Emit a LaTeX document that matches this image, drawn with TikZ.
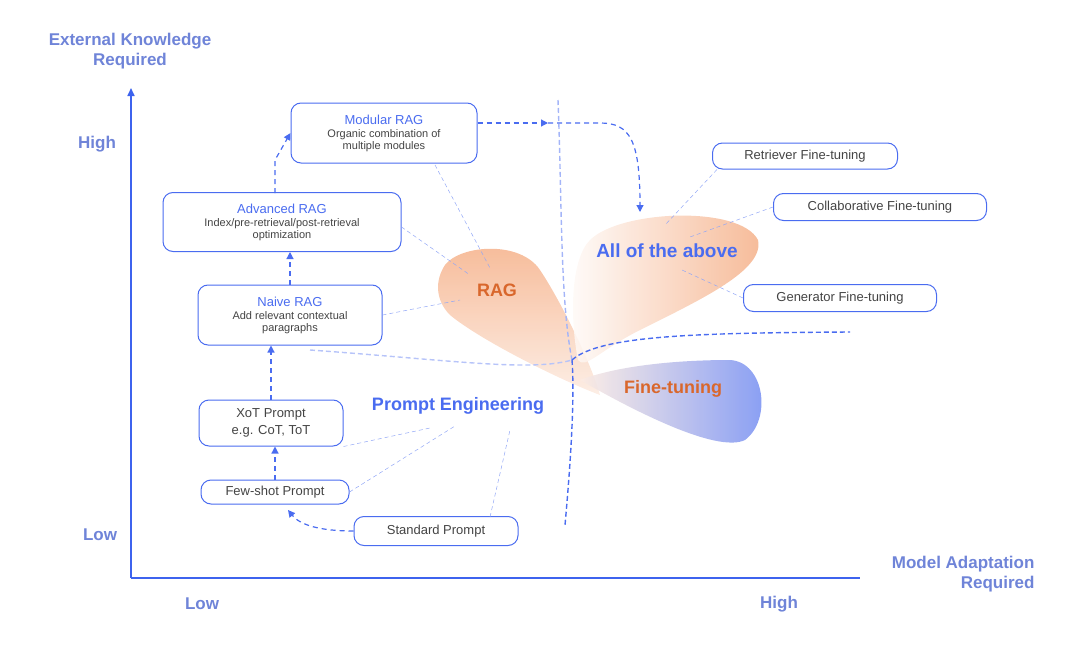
\documentclass[tikz,border=0pt]{standalone}
\usepackage{fontspec}
\setmainfont{Liberation Sans}
\usetikzlibrary{arrows.meta}
\definecolor{ax}{HTML}{3D63EE}
\definecolor{axt}{HTML}{6F84D8}
\definecolor{bx}{HTML}{4A6CF0}
\definecolor{ot}{HTML}{D9672C}
\definecolor{ob}{HTML}{F3A070}
\definecolor{gt}{HTML}{444444}
\begin{document}
\begin{tikzpicture}[x=1pt,y=-1pt,
 box/.style={draw=bx,line width=1pt,rounded corners=10pt,fill=white,align=center,inner sep=3pt},
 flow/.style={draw=bx,line width=1.2pt,dash pattern=on 5pt off 4pt,-{Triangle[length=7pt,width=7pt]}},
 lead/.style={draw=bx!60,line width=0.5pt,dash pattern=on 4pt off 3pt},
 bnd/.style={draw=bx,line width=1.4pt,dash pattern=on 5pt off 3pt},
 axl/.style={text=axt,font=\bfseries\fontsize{17}{20}\selectfont,align=center},
 ttl/.style={text=bx,font=\fontsize{13}{15}\selectfont},
 sub/.style={text=gt,font=\fontsize{11}{12.5}\selectfont},
 one/.style={box,text=gt,font=\fontsize{13}{16}\selectfont}]
\useasboundingbox (0,0) rectangle (1080,645);
% blobs
\shade[top color=ob!80,bottom color=ob!20,opacity=0.9] (445,265) .. controls (460,245) and (520,240) .. (540,270) .. controls (560,300) and (590,360) .. (600,395) .. controls (560,380) and (480,340) .. (450,315) .. controls (435,300) and (435,280) .. (445,265);
\shade[left color=ob!5,right color=ob!85,opacity=0.85] (590,240) .. controls (620,210) and (740,205) .. (758,240) .. controls (765,270) and (700,300) .. (640,330) .. controls (600,350) and (585,370) .. (578,360) .. controls (570,320) and (570,260) .. (590,240);
\shade[left color=ob!20,right color=bx!75,opacity=0.9] (580,380) .. controls (620,365) and (680,360) .. (730,360) .. controls (765,362) and (772,420) .. (745,440) .. controls (720,452) and (650,420) .. (580,380);
% boundary lines
\draw[bnd,draw=bx!50] (558,100) .. controls (562,200) and (560,300) .. (572,360);
\draw[bnd] (572,360) .. controls (575,400) and (570,470) .. (565,525);
\draw[bnd,draw=bx!40] (310,350) .. controls (450,360) and (530,372) .. (572,360);
\draw[bnd] (572,360) .. controls (600,335) and (700,333) .. (850,332);
% axes
\draw[ax,line width=1.6pt,-{Triangle[length=8pt,width=7pt]}] (131,578) -- (131,88);
\draw[ax,line width=1.6pt] (131,578) -- (860,578);
\node[axl] (ya) at (130,51) {External Knowledge\\Required};
\node[axl] (yh) at (97,144) {High};
\node[axl] (yl) at (100,535) {Low};
\node[axl] (xl) at (202,604) {Low};
\node[axl] (xh) at (779,604) {High};
\node[axl,align=right,anchor=east] (xa) at (1038,574) {Model Adaptation\\Required};
% region labels
\node[text=ot,font=\bfseries\fontsize{18}{20}\selectfont] (rag) at (497,290) {RAG};
\node[text=bx,font=\bfseries\fontsize{19}{21}\selectfont] (all) at (667,251) {All of the above};
\node[text=ot,font=\bfseries\fontsize{18}{20}\selectfont] (ft) at (673,389) {Fine-tuning};
\node[text=bx,font=\bfseries\fontsize{18}{20}\selectfont] (pe) at (458,406) {Prompt Engineering};
% boxes
\node[box,minimum width=186pt,minimum height=60pt] (mod) at (384,133) {\makebox{\fontsize{13}{15}\selectfont\color{bx}Modular RAG}\\[1pt]{\color{gt}\fontsize{11}{12.5}\selectfont Organic combination of}\\{\color{gt}\fontsize{11}{12.5}\selectfont multiple modules}};
\node[box,minimum width=238pt,minimum height=59pt] (adv) at (282,222) {{\fontsize{13}{15}\selectfont\color{bx}Advanced RAG}\\[1pt]{\color{gt}\fontsize{11}{12.5}\selectfont Index/pre-retrieval/post-retrieval}\\{\color{gt}\fontsize{11}{12.5}\selectfont optimization}};
\node[box,minimum width=184pt,minimum height=60pt] (nai) at (290,315) {{\fontsize{13}{15}\selectfont\color{bx}Naive RAG}\\[1pt]{\color{gt}\fontsize{11}{12.5}\selectfont Add relevant contextual}\\{\color{gt}\fontsize{11}{12.5}\selectfont paragraphs}};
\node[one,minimum width=144pt,minimum height=46pt,font=\fontsize{13}{17}\selectfont] (xot) at (271,423) {XoT Prompt\\e.g. CoT, ToT};
\node[one,minimum width=148pt,minimum height=24pt] (few) at (275,492) {Few-shot Prompt};
\node[one,minimum width=164pt,minimum height=29pt] (std) at (436,531) {Standard Prompt};
\node[one,minimum width=185pt,minimum height=26pt] (ret) at (805,156) {Retriever Fine-tuning};
\node[one,minimum width=213pt,minimum height=27pt] (col) at (880,207) {Collaborative Fine-tuning};
\node[one,minimum width=193pt,minimum height=27pt] (gen) at (840,298) {Generator Fine-tuning};
% flow arrows
\coordinate (fsb) at (288,510);
\coordinate (mr) at (548,123);
\coordinate (alt) at (640,212);
\draw[flow] (std.west) .. controls (320,531) and (300,525) .. (fsb);
\draw[flow] (few.north) -- (few.north |- xot.south);
\draw[flow] (xot.north) -- (xot.north |- nai.south);
\draw[flow] (nai.north) -- (nai.north |- adv.south);
\draw[flow] (275,193) -- (275,160) -- (mod.west);
\draw[flow] (mod.east |- mr) -- (mr);
\draw[flow] (mr) -- (600,123) .. controls (630,123) and (640,140) .. (alt);
% leaders
\coordinate (l1) at (490,268); \coordinate (l2) at (470,275); \coordinate (l3) at (460,300);
\coordinate (l4) at (430,428); \coordinate (l5) at (455,426); \coordinate (l6) at (510,430);
\coordinate (l7) at (665,225); \coordinate (l8) at (690,237); \coordinate (l9) at (682,270);
\draw[lead] (435,165) -- (l1);
\draw[lead] (adv.east) ++(0,5) -- (l2);
\draw[lead] (nai.east) -- (l3);
\draw[lead] (xot.south east) -- (l4);
\draw[lead] (few.east) -- (l5);
\draw[lead] (490,517) -- (l6);
\draw[lead] (ret.south west) ++(5,0) -- (l7);
\draw[lead] (col.west) -- (l8);
\draw[lead] (gen.west) -- (l9);
\end{tikzpicture}
\end{document}
